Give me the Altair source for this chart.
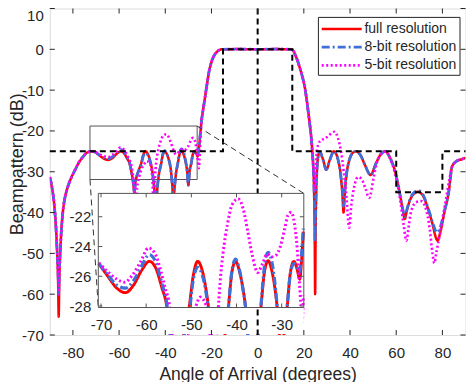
import altair as alt
import pandas as pd

# ---------------- data ----------------
series_names = ["full resolution", "8-bit resolution", "5-bit resolution"]

full_angle = [-90, -89, -88, -87.3, -86.8, -86.4, -86.15, -85.9, -85.5, -85.0, -84.3, -83.5, -82.8,
              -81.8, -80.5, -79, -77.5, -76, -74.3, -72.2, -70.5, -68.5, -66.5, -64.6, -62.8, -61,
              -59.3, -57.8, -56.6, -55.4, -54.5, -53.8, -53.4, -52.9, -52.2, -51.3, -50.5, -49.6,
              -48.6, -47.6, -46.8, -46.2, -45.4, -44.7, -44.1, -43.5, -42.8, -41.8, -41.0, -40.2,
              -39.4, -38.6, -38.0, -37.4, -36.9, -36.5, -36.0, -35.3, -34.6, -33.8, -33.0, -32.2,
              -31.6, -31.0, -30.5, -30.0, -29.5, -28.8, -28.1, -27.3, -26.6, -26.0, -25.6, -25.2,
              -24.8, -24.4, -23.9, -23.4, -22.8, -22.0, -21.0, -20.3, -19.5, -18.5, -17.6, -16.5,
              -15.5, -8, 0, 8, 14.5, 15.5, 16.3, 17.4, 18.4, 19.5, 20.5, 21.2, 21.9, 22.5, 23.1,
              23.6, 24.0, 24.4, 24.7, 24.9, 25.1, 25.4, 25.8, 26.3, 26.9, 28.3, 29.7, 31.3, 33.0,
              34.8, 36.0, 36.7, 37.2, 37.7, 38.4, 39.6, 41.0, 42.5, 44.5, 46.5, 48.9, 51.2, 53.2,
              55.2, 57.5, 59.5, 61.6, 62.8, 63.7, 64.6, 65.8, 67.5, 69.4, 71.5, 73.6, 75.8, 77.1,
              77.9, 78.8, 80.7, 82.8, 84.2, 86.4, 88.0, 90]

full_db = [-31.3, -34.0, -38.5, -44, -50, -57, -65.5, -57, -50, -44.5, -39.6, -36.5, -34.8,
           -33.0, -31.2, -29.5, -27.8, -26.6, -25.5, -25.0, -25.15, -26.0, -26.8, -27.1, -26.6, -25.6,
           -25.0, -25.5, -26.7, -28.1, -30.5, -33.0, -35.2, -32.5, -30.8, -29.3, -28.1, -26.0,
           -25.0, -25.6, -26.8, -28.1, -30.8, -34.5, -40, -34.5, -30.8, -28.1, -25.7, -25.0,
           -25.6, -26.8, -28.1, -30.5, -34, -38, -34, -30.2, -28.1, -25.7, -24.95, -25.6,
           -26.6, -28.1, -30.0, -33.3, -30.0, -28.1, -25.8, -25.0, -25.5, -26.2, -25.0, -23.0,
           -20.5, -18.0, -15.8, -14.0, -11.8, -8.8, -5.3, -3.7, -2.3, -1.2, -0.6, -0.15,
           0.0, 0.05, 0.0, 0.05, 0.0, -0.4, -1.4, -3.0, -4.8, -7.0, -9.6, -12.2, -15.3, -18.0, -21.0,
           -24.5, -28.0, -34.0, -45.0, -60.0, -45.0, -34.0, -28.5, -26.0, -25.1, -27.0, -29.5, -27.0, -25.0,
           -27.0, -31.0, -35.5, -40.0, -35.5, -31.0, -27.3, -25.5, -25.0, -25.9, -28.4, -30.8, -28.0, -25.8,
           -25.0, -26.8, -29.9, -35.5, -39.2, -41.6, -39.5, -37.2, -35.5, -34.9, -35.8, -38.8, -43.0, -46.0,
           -46.9, -45.5, -40.4, -34.7, -28.7, -27.3, -27.0, -26.6]

bit8_db = [-31.3, -34.0, -38.5, -44, -50, -55, -60, -55, -50, -44.5, -39.6, -36.5, -34.8,
           -33.0, -31.2, -29.5, -27.8, -26.6, -25.5, -25.0, -25.15, -25.9, -26.6, -26.8, -26.3, -25.3,
           -24.55, -25.1, -26.4, -27.9, -30.5, -33.0, -35.2, -32.5, -30.8, -29.6, -28.5, -26.3,
           -25.4, -25.9, -27.0, -28.3, -30.8, -34.5, -40, -34.5, -30.8, -28.1, -25.6, -24.85,
           -25.5, -26.8, -28.1, -30.5, -34, -38, -34, -30.2, -28.0, -25.3, -24.4, -25.0,
           -26.2, -28.0, -30.0, -33.3, -30.0, -28.1, -25.9, -25.15, -25.4, -25.7, -24.5, -22.8,
           -20.5, -18.0, -15.8, -14.0, -11.8, -8.8, -5.3, -3.7, -2.3, -1.2, -0.6, -0.15,
           0.0, 0.05, 0.0, 0.05, 0.0, -0.4, -1.4, -3.0, -4.8, -7.0, -9.6, -12.2, -15.3, -18.0, -21.0,
           -24.5, -28.0, -34.0, -40.0, -47.0, -40.0, -34.0, -28.5, -26.0, -25.1, -27.0, -29.5, -27.0, -25.0,
           -27.0, -31.0, -34.5, -38.5, -34.5, -31.0, -27.3, -25.5, -25.0, -25.9, -28.4, -30.8, -28.0, -25.8,
           -25.0, -26.8, -29.9, -35.5, -39.0, -41.0, -39.3, -37.0, -35.2, -34.6, -35.5, -38.5, -42.5, -44.5,
           -44.9, -44.0, -40.0, -34.7, -28.7, -27.3, -27.0, -26.6]

bit5_angle = [-90, -89, -88, -87.3, -86.8, -86.4, -86.15, -85.9, -85.5, -85.0, -84.3, -83.5, -82.8,
              -81.8, -80.5, -79, -77.5, -76, -74.3, -72.2, -70.5, -68.5, -66.5, -64.8, -63.0, -61.2,
              -59.5, -58.0, -56.8, -55.8, -54.8, -54.0, -53.4, -52.9, -52.2, -51.2, -50.3, -49.1,
              -48.0, -46.8, -46.2, -45.6, -45.1, -44.6, -44.2, -43.6, -43.0, -42.0, -41.0, -39.6,
              -38.5, -37.5, -36.5, -35.3, -34.3, -33.2, -32.3, -31.3, -30.3, -29.4, -28.6, -27.9,
              -27.2, -26.6, -26.1, -25.7, -25.45, -25.2, -24.8, -24.4, -23.9, -23.4, -22.8, -22.0,
              -21.0, -20.3, -19.5, -18.5, -17.6, -16.5, -15.5, -8, 0, 8, 14.5, 15.5, 16.3, 17.4,
              18.4, 19.5, 20.5, 21.2, 21.9, 22.5, 23.1, 23.6, 24.0, 24.4, 24.7, 24.9, 25.1, 25.5,
              26.2, 27.6, 29.2, 31.0, 33.3, 34.8, 36.1, 37.3, 38.5, 39.6, 40.6, 41.8, 43.5, 45.0,
              46.6, 48.3, 50.2, 51.5, 53.1, 55.2, 57.5, 59.5, 61.6, 63.2, 64.4, 65.5, 66.5, 68.6,
              70.8, 72.8, 74.5, 75.7, 76.5, 77.3, 78.9, 81.4, 83.0, 84.2, 86.4, 88.0, 90]

bit5_db = [-31.3, -34.0, -38.5, -44, -50, -55, -60, -55, -50, -44.5, -39.6, -36.5, -34.8,
           -33.0, -31.2, -29.5, -27.8, -26.6, -25.5, -25.0, -25.1, -25.7, -26.2, -26.4, -25.9, -25.0,
           -24.1, -24.5, -25.6, -26.8, -28.1, -31, -35, -39, -34, -31, -29.4, -28.1,
           -27.4, -27.9, -28.8, -31.5, -37, -33, -29.3, -26.3, -24.5, -22.5, -21.2, -20.8,
           -21.5, -23.0, -24.6, -25.75, -25.2, -24.5, -24.7, -24.6, -24.0, -22.9, -21.9, -21.7,
           -22.4, -24.0, -26.3, -28.1, -29.1, -27.3, -22.0, -18.0, -15.8, -14.0, -11.8, -8.8,
           -5.3, -3.7, -2.3, -1.2, -0.6, -0.15, 0.0, 0.05, 0.0, 0.05, 0.0, -0.4, -1.4, -3.0,
           -4.8, -7.0, -9.6, -12.2, -15.3, -18.0, -21.0, -24.5, -28.0, -31.0, -33.5, -34.5, -30.0, -26.0,
           -23.4, -22.2, -21.9, -21.0, -20.2, -21.8, -25.0, -30.0, -36.5, -43.7, -38.0, -33.7, -31.3, -31.8,
           -34.0, -36.4, -31.5, -28.0, -26.0, -25.0, -27.0, -30.5, -36.5, -43.0, -46.9, -43.0, -39.6, -37.5,
           -37.2, -39.0, -44.0, -50.0, -52.4, -50.0, -45.3, -37.2, -32.0, -28.7, -27.3, -27.0, -26.6]

# desired (mask) pattern
mask_angle = [-90, -15, -15, 15, 15, 60, 60, 80, 80, 90]
mask_db = [-25, -25, 0, 0, -25, -25, -35, -35, -25, -25]

# zoomed region (main axes) and inset domain
zoom_angle = [-72.6, -26.2]
zoom_db = [-31.9, -18.8]
inset_angle = [-70.6, -25.1]
inset_db = [-28.1, -20.43]

main_xticks = [-80, -60, -40, -20, 0, 20, 40, 60, 80]
main_yticks = [-70, -60, -50, -40, -30, -20, -10, 0, 10]
inset_xticks = [-70, -60, -50, -40, -30]
inset_yticks = [-28, -26, -24, -22]

# ---------------- style / layout ----------------
FONT = "Liberation Sans"
TXT = "#262626"
W, H = 415.7, 326.5
PAD = {"left": 41.8, "top": 0.5, "right": 0.5, "bottom": 47}
COLORS = ["#ff0000", "#3f6fd8", "#ff00ff"]
DASHES = [[1, 0], [8, 3, 2, 3], [2, 2.5]]
WIDTHS = [2.5, 2.8, 2.6]
HYPHEN = "replace(datum.label, '\u2212', '-')"

IX0, IX1 = 48.5, 254.0      # inset box (plot px)
IY0, IY1 = 184.9, 299.0
LX1 = 410.2
LX0 = LX1 - 141.6
LY0, LY1 = 8.9, 66.8
LEG_ROWS = [20.5, 38.7, 56.9]
LEG_L0, LEG_L1, LEG_T = LX0 + 3.3, LX0 + 43.3, LX0 + 46.0

series_frames = [
    pd.DataFrame({"angle": full_angle, "db": full_db}),
    pd.DataFrame({"angle": full_angle, "db": bit8_db}),
    pd.DataFrame({"angle": bit5_angle, "db": bit5_db}),
]

xs = alt.Scale(domain=[-90, 90], nice=False, zero=False)
ys = alt.Scale(domain=[-70, 10], nice=False, zero=False)
ixs = alt.Scale(domain=inset_angle, range=[IX0, IX1], nice=False, zero=False)
iys = alt.Scale(domain=inset_db, range=[IY1, IY0], nice=False, zero=False)

x_axis = alt.Axis(values=main_xticks, grid=False, ticks=False, domain=False, labelFontSize=15,
                  labelColor=TXT, labelFont=FONT, labelPadding=10, labelFlush=False, labelExpr=HYPHEN,
                  title="Angle of Arrival (degrees)", titleFontSize=17.5, titleFontWeight="normal",
                  titleColor=TXT, titleFont=FONT, titlePadding=5)
y_axis = alt.Axis(values=main_yticks, grid=False, ticks=False, domain=False, labelFontSize=15,
                  labelColor=TXT, labelFont=FONT, labelPadding=6.5, labelFlush=False, labelExpr=HYPHEN,
                  labelBaseline={"condition": {"test": "datum.value == 10", "value": "top"},
                                 "value": "middle"},
                  title="Beampattern (dB)", titleFontSize=18, titleFontWeight="normal",
                  titleColor=TXT, titleFont=FONT, titlePadding=-4.6, titleY=155.2)
ix_axis = alt.Axis(orient="bottom", offset=-(H - IY1), values=inset_xticks, grid=False, ticks=False,
                   domain=False, labelFontSize=15, labelColor=TXT, labelFont=FONT, labelPadding=10,
                   labelFlush=False, labelExpr=HYPHEN, title="", zindex=1)
iy_axis = alt.Axis(orient="left", offset=-IX0, values=inset_yticks, grid=False, ticks=False,
                   domain=False, labelFontSize=15, labelColor=TXT, labelFont=FONT, labelPadding=7.5,
                   labelFlush=False, labelExpr=HYPHEN, title="", zindex=1)


def MX(field):
    return alt.X(f"{field}:Q", scale=xs, axis=x_axis)


def MY(field):
    return alt.Y(f"{field}:Q", scale=ys, axis=y_axis)


def IXe(field):
    return alt.X(f"{field}:Q", scale=ixs, axis=ix_axis)


def IYe(field):
    return alt.Y(f"{field}:Q", scale=iys, axis=iy_axis)


# ---------------- main panel ----------------
main_layers = []
zoom_df = pd.DataFrame({"angle": [zoom_angle[0]], "angle2": [zoom_angle[1]],
                        "db": [zoom_db[0]], "db2": [zoom_db[1]]})
main_layers.append(alt.Chart(zoom_df).mark_rect(fillOpacity=0, stroke="#555555", strokeWidth=1).encode(
    x=MX("angle"), x2="angle2", y=MY("db"), y2="db2"))

for df, c, d, w in zip(series_frames, COLORS, DASHES, WIDTHS):
    main_layers.append(alt.Chart(df).mark_line(color=c, strokeWidth=w, strokeDash=d,
                                               interpolate="monotone", clip=True).encode(
        x=MX("angle"), y=MY("db")))

mask_df = pd.DataFrame({"angle": mask_angle, "db": mask_db, "i": list(range(len(mask_angle)))})
main_layers.append(alt.Chart(mask_df).mark_line(color="black", strokeWidth=2, strokeDash=[6, 4]).encode(
    x=MX("angle"), y=MY("db"), order="i:Q"))

zero_df = pd.DataFrame({"angle": [0], "db": [10], "db2": [-70]})
main_layers.append(alt.Chart(zero_df).mark_rule(color="black", strokeWidth=2, strokeDash=[6, 4]).encode(
    x=MX("angle"), y=MY("db"), y2="db2"))

# connectors from zoom box to inset
c1 = pd.DataFrame({"angle": [zoom_angle[1]], "db": [zoom_db[1]]})
c2 = pd.DataFrame({"angle": [zoom_angle[0]], "db": [zoom_db[0]]})
main_layers.append(alt.Chart(c1).mark_rule(color="#333333", strokeWidth=1, strokeDash=[6, 4]).encode(
    x=MX("angle"), y=MY("db"), x2=alt.value(IX1), y2=alt.value(IY0)))
main_layers.append(alt.Chart(c2).mark_rule(color="#333333", strokeWidth=1, strokeDash=[6, 4]).encode(
    x=MX("angle"), y=MY("db"), x2=alt.value(IX0), y2=alt.value(IY1)))

# legend
leg_df = pd.DataFrame({"name": series_names})
main_layers.append(alt.Chart(leg_df.head(1)).mark_rect(fill="white", stroke=TXT, strokeWidth=1).encode(
    x=alt.value(LX0), x2=alt.value(LX1), y=alt.value(LY0), y2=alt.value(LY1)))
for i, (name, c, d, w) in enumerate(zip(series_names, COLORS, DASHES, WIDTHS)):
    one = pd.DataFrame({"name": [name]})
    main_layers.append(alt.Chart(one).mark_rule(color=c, strokeWidth=w, strokeDash=d).encode(
        x=alt.value(LEG_L0), x2=alt.value(LEG_L1), y=alt.value(LEG_ROWS[i])))
    main_layers.append(alt.Chart(one).mark_text(align="left", baseline="middle", font=FONT,
                                                fontSize=14, color=TXT).encode(
        x=alt.value(LEG_T), y=alt.value(LEG_ROWS[i]), text="name:N"))

main_part = alt.layer(*main_layers)

# ---------------- inset ----------------
inset_layers = []
ibox = pd.DataFrame({"angle": [inset_angle[0]], "angle2": [inset_angle[1]],
                     "db": [inset_db[0]], "db2": [inset_db[1]]})
inset_layers.append(alt.Chart(ibox).mark_rect(fill="white", strokeOpacity=0).encode(
    x=IXe("angle"), x2="angle2", y=IYe("db"), y2="db2"))
flt = f"datum.angle >= {inset_angle[0]} && datum.angle <= {inset_angle[1]}"
for df, c, d, w in zip(series_frames, COLORS, DASHES, WIDTHS):
    inset_layers.append(alt.Chart(df).transform_filter(flt).mark_line(
        color=c, strokeWidth=w + 0.4, strokeDash=d, interpolate="monotone", clip=True).encode(
        x=IXe("angle"), y=IYe("db")))
# white cover below the inset box (hides the curves leaving it)
inset_layers.append(alt.Chart(ibox).mark_rect(fill="white", strokeOpacity=0).encode(
    x=IXe("angle"), x2="angle2", y=alt.value(IY1 + 0.5), y2=alt.value(H - 1)))
inset_layers.append(alt.Chart(ibox).mark_rect(fillOpacity=0, stroke="#555555", strokeWidth=1).encode(
    x=IXe("angle"), x2="angle2", y=IYe("db"), y2="db2"))
ixt = pd.DataFrame({"tick": inset_xticks})
iyt = pd.DataFrame({"tick": inset_yticks})
for y0, y1 in [(IY1, IY1 - 4), (IY0, IY0 + 4)]:
    inset_layers.append(alt.Chart(ixt).mark_rule(color="#555555", strokeWidth=1).encode(
        x=IXe("tick"), y=alt.value(y0), y2=alt.value(y1)))
for x0, x1 in [(IX0, IX0 + 4), (IX1, IX1 - 4)]:
    inset_layers.append(alt.Chart(iyt).mark_rule(color="#555555", strokeWidth=1).encode(
        y=IYe("tick"), x=alt.value(x0), x2=alt.value(x1)))
inset_part = alt.layer(*inset_layers)

# ---------------- overlay: frame ticks and lower zero line ----------------
ov = []
xt = pd.DataFrame({"tick": main_xticks})
yt = pd.DataFrame({"tick": main_yticks})
for y0, y1 in [(H, H - 5), (0, 5)]:
    ov.append(alt.Chart(xt).mark_rule(color=TXT, strokeWidth=1).encode(
        x=alt.X("tick:Q", scale=xs, axis=None), y=alt.value(y0), y2=alt.value(y1)))
for x0, x1 in [(0, 5), (W, W - 5)]:
    ov.append(alt.Chart(yt).mark_rule(color=TXT, strokeWidth=1).encode(
        y=alt.Y("tick:Q", scale=ys, axis=None), x=alt.value(x0), x2=alt.value(x1)))
ov.append(alt.Chart(zero_df).mark_rule(color="black", strokeWidth=2, strokeDash=[6, 4]).encode(
    x=alt.X("angle:Q", scale=xs, axis=None), y=alt.value(IY1 + 2), y2=alt.value(H)))
overlay_part = alt.layer(*ov)

chart = alt.layer(main_part, inset_part, overlay_part).resolve_scale(
    x="independent", y="independent").properties(
    width=W, height=H, padding=PAD, autosize=alt.AutoSizeParams(type="none")
).configure_view(stroke=TXT, strokeWidth=1).configure(background="white")

chart.save("out.html", embed_options={"renderer": "svg", "actions": False})
